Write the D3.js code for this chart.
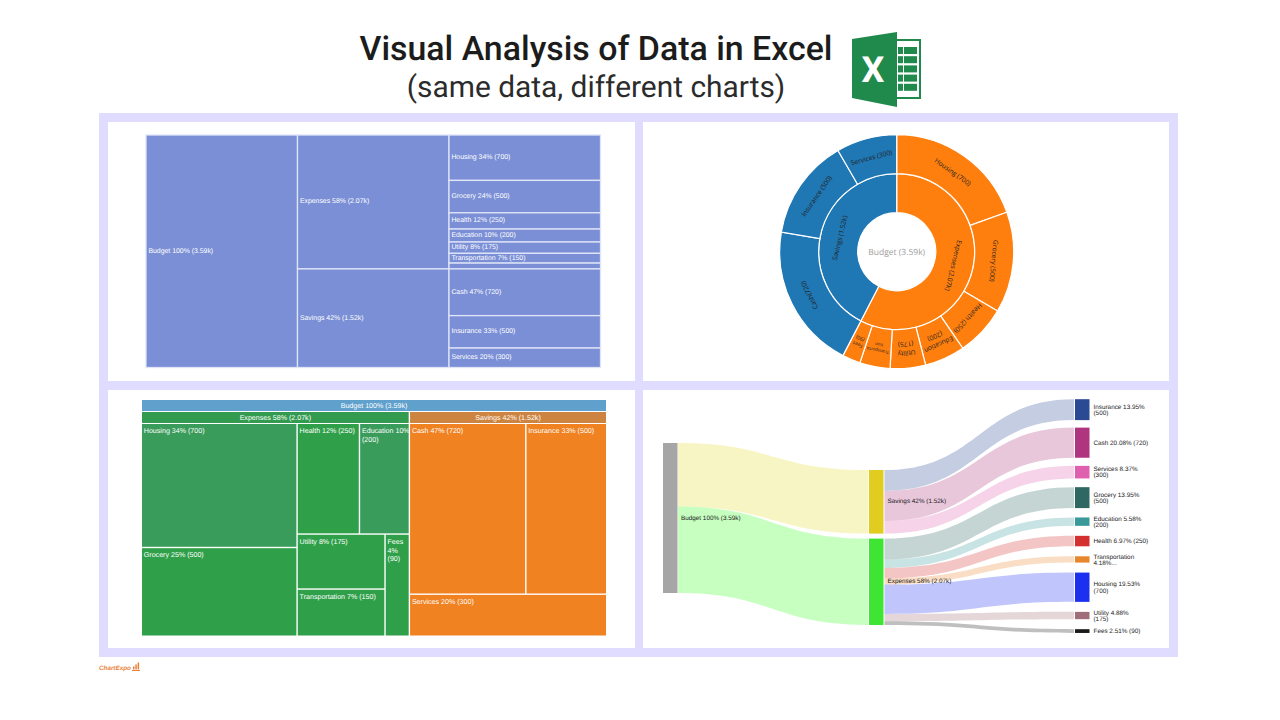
<!DOCTYPE html>
<html><head><meta charset="utf-8">
<script src="https://cdn.jsdelivr.net/npm/d3@7"></script>
<style>html,body{margin:0;padding:0;background:#fff;overflow:hidden}svg{display:block;text-rendering:geometricPrecision}</style>
</head><body><svg id="c" width="1280" height="720"></svg>
<script>
// ---- data ----
const titleText = "Visual Analysis of Data in Excel";
const subtitleText = "(same data, different charts)";
const groupNames = ["Expenses", "Savings"];
const expenseNames = ["Housing", "Grocery", "Health", "Education", "Utility", "Transportation", "Fees"];
const expenseValues = [700, 500, 250, 200, 175, 150, 90];
const savingsNames = ["Cash", "Insurance", "Services"];
const savingsValues = [720, 500, 300];
// icicle labels
const icicleRootLabel = "Budget 100% (3.59k)";
const icicleGroupLabels = ["Expenses 58% (2.07k)", "Savings 42% (1.52k)"];
const icicleExpenseLabels = ["Housing 34% (700)", "Grocery 24% (500)", "Health 12% (250)", "Education 10% (200)", "Utility 8% (175)", "Transportation 7% (150)", ""];
const icicleSavingsLabels = ["Cash 47% (720)", "Insurance 33% (500)", "Services 20% (300)"];
// sunburst labels
const sunCenterLabel = "Budget (3.59k)";
const sunGroupLabels = ["Expenses (2.07k)", "Savings (1.52k)"];
const sunExpenseLabels = [["Housing (700)"], ["Grocery (500)"], ["Health (250)"], ["Education", "(200)"], ["Utility", "(175)"], ["Transporta", "tion"], ["Fees", "(90)"]];
const sunSavingsLabels = [["Cash(720)"], ["Insurance (500)"], ["Services (300)"]];
// treemap labels
const treeRootLabel = "Budget 100% (3.59k)";
const treeGroupLabels = ["Expenses 58% (2.07k)", "Savings 42% (1.52k)"];
const treeExpenseLabels = [["Housing 34% (700)"], ["Grocery 25% (500)"], ["Health 12% (250)"], ["Education 10%", "(200)"], ["Utility 8% (175)"], ["Transportation 7% (150)"], ["Fees", "4%", "(90)"]];
const treeSavingsLabels = [["Cash 47% (720)"], ["Insurance  33% (500)"], ["Services 20% (300)"]];
// sankey
const sankeyRootLabel = "Budget 100% (3.59k)";
const sankeyGroupLabels = ["Savings 42% (1.52k)", "Expenses 58% (2.07k)"];
const sankeyGroupOrder = ["Savings", "Expenses"];
const sankeySavingsOrder = ["Insurance", "Cash", "Services"];
const sankeyExpenseOrder = ["Grocery", "Education", "Health", "Transportation", "Housing", "Utility", "Fees"];
const sankeyLeafLabels = [["Insurance 13.95%", "(500)"], ["Cash 20.08% (720)"], ["Services 8.37%", "(300)"], ["Grocery 13.95%", "(500)"], ["Education 5.58%", "(200)"], ["Health 6.97% (250)"], ["Transportation", "4.18%..."], ["Housing 19.53%", "(700)"], ["Utility 4.88%", "(175)"], ["Fees 2.51% (90)"]];

// ---- helpers ----
const svg = d3.select("#c");
const valueOf = n => {
  let i = expenseNames.indexOf(n);
  if (i >= 0) return expenseValues[i];
  return savingsValues[savingsNames.indexOf(n)];
};
const budgetTree = () => ({
  name: "Budget",
  children: [
    { name: groupNames[0], children: expenseNames.map((n, i) => ({ name: n, value: expenseValues[i] })) },
    { name: groupNames[1], children: savingsNames.map((n, i) => ({ name: n, value: savingsValues[i] })) }
  ]
});
const multi = (sel, lines, x, lh, dy0) => {
  lines.forEach((l, i) => sel.append("tspan").attr("x", x).attr("dy", i === 0 ? (dy0 || 0) : lh).text(l));
};

// ---- page frame ----
svg.append("rect").attr("x", 99).attr("y", 113).attr("width", 1079).attr("height", 544).attr("fill", "#e0dcff");
[[108, 122, 527, 259], [643, 122, 526, 259], [108, 390, 527, 258], [643, 390, 526, 258]].forEach(p =>
  svg.append("rect").attr("x", p[0]).attr("y", p[1]).attr("width", p[2]).attr("height", p[3]).attr("fill", "#fff"));

// ---- title ----
svg.append("text").attr("x", 596).attr("y", 60).attr("text-anchor", "middle")
  .attr("font-family", "Roboto").attr("font-weight", 500).attr("font-size", 33.9).attr("fill", "#1c1c1c").text(titleText);
svg.append("text").attr("x", 596).attr("y", 97).attr("text-anchor", "middle")
  .attr("font-family", "Roboto").attr("font-size", 29.9).attr("fill", "#2b2b2b").text(subtitleText);

// ---- Excel logo ----
const xl = svg.append("g");
xl.append("rect").attr("x", 894).attr("y", 39).attr("width", 27).attr("height", 60).attr("fill", "#1f8a4c");
xl.append("rect").attr("x", 897).attr("y", 41).attr("width", 22).attr("height", 56).attr("fill", "#fff");
d3.range(5).forEach(r => {
  [[898, 5], [904, 13]].forEach(c => {
    xl.append("rect").attr("x", c[0]).attr("y", 47 + r * 9.2).attr("width", c[1]).attr("height", 7).attr("fill", "#1f8a4c");
  });
});
xl.append("path").attr("d", "M852,39L897,32L897,107L852,98Z").attr("fill", "#1f8a4c");
xl.append("text").attr("x", 873).attr("y", 82).attr("text-anchor", "middle")
  .attr("font-family", "Roboto").attr("font-weight", 700).attr("font-size", 36).attr("fill", "#fff").text("X");

// ---- ChartExpo mark ----
svg.append("text").attr("x", 99).attr("y", 670).attr("font-family", "Liberation Sans").attr("font-style", "italic")
  .attr("font-weight", 700).attr("font-size", 6.3).attr("fill", "#e8823a").text("ChartExpo");
[[133, 3], [135.3, 5], [137.6, 7]].forEach(b =>
  svg.append("rect").attr("x", b[0]).attr("y", 669.5 - b[1]).attr("width", 1.5).attr("height", b[1]).attr("fill", "#e8823a"));
svg.append("rect").attr("x", 132).attr("y", 670).attr("width", 8).attr("height", 1).attr("fill", "#e8823a");

// ---- 1. icicle ----
(function () {
  const root = d3.hierarchy(budgetTree()).sum(d => d.value);
  d3.partition().size([232.5, 454.5])(root);
  const g = svg.append("g").attr("transform", "translate(146,135)");
  const labelFor = d => {
    if (d.depth === 0) return icicleRootLabel;
    if (d.depth === 1) return icicleGroupLabels[groupNames.indexOf(d.data.name)];
    let i = expenseNames.indexOf(d.data.name);
    return i >= 0 ? icicleExpenseLabels[i] : icicleSavingsLabels[savingsNames.indexOf(d.data.name)];
  };
  const cell = g.selectAll("g").data(root.descendants()).join("g");
  cell.append("rect").attr("x", d => d.y0).attr("y", d => d.x0)
    .attr("width", d => d.y1 - d.y0).attr("height", d => d.x1 - d.x0)
    .attr("fill", "#7b8fd6").attr("stroke", "#dfe4f7").attr("stroke-width", 1.3);
  cell.append("text").attr("x", d => d.y0 + 2.4).attr("y", d => (d.x0 + d.x1) / 2)
    .attr("dominant-baseline", "central").attr("font-family", "Liberation Sans").attr("font-size", 6.9)
    .attr("fill", "#fff").text(labelFor);
})();

// ---- 2. sunburst ----
(function () {
  const root = d3.hierarchy(budgetTree()).sum(d => d.value);
  d3.partition().size([2 * Math.PI, 1])(root);
  const r = d3.scaleLinear().domain([1, 3]).range([39, 117]);
  const colour = d3.scaleOrdinal().domain(groupNames).range(["#ff7f0e", "#1f77b4"]);
  const arc = d3.arc().startAngle(d => d.x0).endAngle(d => d.x1)
    .innerRadius(d => r(d.depth)).outerRadius(d => r(d.depth + 1));
  const g = svg.append("g").attr("transform", "translate(896.7,251.7)");
  const nodes = root.descendants().filter(d => d.depth > 0);
  g.selectAll("path").data(nodes).join("path").attr("d", arc)
    .attr("fill", d => colour(d.depth === 1 ? d.data.name : d.parent.data.name))
    .attr("stroke", "#fff").attr("stroke-width", 1.2);
  const linesFor = d => {
    if (d.depth === 1) return [sunGroupLabels[groupNames.indexOf(d.data.name)]];
    let i = expenseNames.indexOf(d.data.name);
    return i >= 0 ? sunExpenseLabels[i] : sunSavingsLabels[savingsNames.indexOf(d.data.name)];
  };
  const size = d => d.value <= 90 ? 5 : d.value <= 150 ? 4.4 : 6.7;
  g.selectAll("text.l").data(nodes).join("text").attr("class", "l")
    .attr("transform", d => {
      const a = (d.x0 + d.x1) / 2, rm = (r(d.depth) + r(d.depth + 1)) / 2;
      return `translate(${rm * Math.sin(a)},${-rm * Math.cos(a)}) rotate(${a * 180 / Math.PI})`;
    })
    .attr("text-anchor", "middle").attr("font-family", "Open Sans").attr("font-size", size).attr("fill", "#222")
    .each(function (d) {
      const lines = linesFor(d), fs = size(d), lh = fs * 1.35;
      multi(d3.select(this), lines, 0, lh, -(lines.length - 1) * lh / 2 + fs * 0.35);
    });
  g.append("text").attr("text-anchor", "middle").attr("y", 3).attr("font-family", "Open Sans").attr("font-size", 8.5)
    .attr("fill", "#a0a0a0").text(sunCenterLabel);
})();

// ---- 3. treemap ----
(function () {
  const leaf = n => ({ name: n, value: valueOf(n) });
  const data = {
    name: "Budget", label: treeRootLabel, dir: "h", children: [
      { name: groupNames[0], label: treeGroupLabels[0], dir: "h", children: [
        { dir: "v", children: [leaf("Housing"), leaf("Grocery")] },
        { dir: "v", children: [
          { dir: "h", children: [leaf("Health"), leaf("Education")] },
          { dir: "h", children: [{ dir: "v", children: [leaf("Utility"), leaf("Transportation")] }, leaf("Fees")] }
        ] }
      ] },
      { name: groupNames[1], label: treeGroupLabels[1], dir: "v", children: [
        { dir: "h", children: [leaf("Cash"), leaf("Insurance")] },
        leaf("Services")
      ] }
    ]
  };
  const root = d3.hierarchy(data).sum(d => d.value);
  d3.treemap().size([464, 235.5]).paddingInner(1.4)
    .paddingTop(d => d.data.label ? 12 : 0)
    .tile((n, a, b, c, e) => (n.data.dir === "h" ? d3.treemapDice : d3.treemapSlice)(n, a, b, c, e))(root);
  const g = svg.append("g").attr("transform", "translate(142,400)");
  const leaves = root.leaves();
  const lighter = ["Housing", "Education"];
  const fill = d => {
    if (savingsNames.includes(d.data.name)) return "#f08222";
    return lighter.includes(d.data.name) ? "#3a9c5a" : "#2fa049";
  };
  const lines = d => {
    let i = expenseNames.indexOf(d.data.name);
    return i >= 0 ? treeExpenseLabels[i] : treeSavingsLabels[savingsNames.indexOf(d.data.name)];
  };
  const headFill = d3.scaleOrdinal().domain(["Budget", ...groupNames]).range(["#5fa0cc", "#339b50", "#cd8440"]);
  const heads = root.descendants().filter(d => d.data.label);
  g.selectAll("rect.h").data(heads).join("rect").attr("class", "h")
    .attr("x", d => d.x0).attr("y", d => d.y0).attr("width", d => d.x1 - d.x0).attr("height", 11)
    .attr("fill", d => headFill(d.data.name));
  g.selectAll("text.h").data(heads).join("text").attr("class", "h")
    .attr("x", d => (d.x0 + d.x1) / 2).attr("y", d => d.y0 + 5.5).attr("dominant-baseline", "central")
    .attr("text-anchor", "middle").attr("font-family", "Liberation Sans").attr("font-size", 7.1).attr("fill", "#fff")
    .text(d => d.data.label);
  g.selectAll("rect.c").data(leaves).join("rect").attr("class", "c")
    .attr("x", d => d.x0).attr("y", d => d.y0).attr("width", d => d.x1 - d.x0).attr("height", d => d.y1 - d.y0)
    .attr("fill", fill);
  g.selectAll("text.c").data(leaves).join("text").attr("class", "c")
    .attr("y", d => d.y0 + 9.3).attr("font-family", "Liberation Sans").attr("font-size", 7.1).attr("fill", "#fff")
    .each(function (d) { multi(d3.select(this), lines(d), d.x0 + 1.8, 8.6); });
})();

// ---- 4. sankey ----
(function () {
  const total = d3.sum(expenseValues) + d3.sum(savingsValues);
  const h = d3.scaleLinear().domain([0, total]).range([0, 150]);
  const groupVal = { Savings: d3.sum(savingsValues), Expenses: d3.sum(expenseValues) };
  const colours = {
    Budget: "#a6a6a6", Savings: "#e0cd20", Expenses: "#3ee533",
    Insurance: "#2b4a94", Cash: "#b0357f", Services: "#e060b0", Grocery: "#2f6863", Education: "#3a9a9a",
    Health: "#d53030", Transportation: "#e8862e", Housing: "#1c30f0", Utility: "#a06e78", Fees: "#1a1a1a"
  };
  const linkTint = { Savings: "#e6db2c", Expenses: "#33ff1e" };
  const col = d3.scalePoint().domain([0, 1, 2]).range([663, 1075]);
  const nodeW = 14.5, g = svg.append("g");
  // node stacks; the space between nodes widens a little going down the column
  const stack = (names, val, top, gap) => {
    let y = top;
    return names.map((n, i) => { const o = { name: n, y0: y, y1: y + h(val(n)), v: val(n) }; y = o.y1 + gap(i); return o; });
  };
  const rootNode = stack(["Budget"], () => total, 443, () => 0);
  const midNodes = stack(sankeyGroupOrder, n => groupVal[n], 470, () => 5);
  const leafOrder = [...sankeySavingsOrder, ...sankeyExpenseOrder];
  const leafGap = d3.scaleLinear().domain([0, 4]).range([7.5, 10]).clamp(true);
  const leafNodes = stack(leafOrder, valueOf, 399.2, leafGap);
  // links
  const band = d3.area().curve(d3.curveBumpX).x(d => d[0]).y0(d => d[1]).y1(d => d[2]);
  const links = [];
  let sy = 443;
  midNodes.forEach(m => {
    links.push({ x0: col(0) + nodeW + 0.5, x1: col(1) - 1, a: sy, b: m.y0, w: h(m.v), c: linkTint[m.name] });
    sy += h(m.v);
    const kids = m.name === "Savings" ? sankeySavingsOrder : sankeyExpenseOrder;
    let ky = m.y0;
    kids.forEach(k => {
      const t = leafNodes.find(n => n.name === k);
      links.push({ x0: col(1) + nodeW + 1, x1: col(2) - 1, a: ky, b: t.y0, w: h(t.v), c: colours[k] });
      ky += h(t.v);
    });
  });
  g.selectAll("path").data(links).join("path")
    .attr("d", d => band([[d.x0, d.a, d.a + d.w], [d.x1, d.b, d.b + d.w]]))
    .attr("fill", d => d.c).attr("opacity", 0.28);
  const drawNodes = (ns, c) => g.append("g").selectAll("rect").data(ns).join("rect")
    .attr("x", col(c)).attr("y", d => d.y0).attr("width", nodeW).attr("height", d => d.y1 - d.y0)
    .attr("fill", d => colours[d.name]);
  drawNodes(rootNode, 0); drawNodes(midNodes, 1); drawNodes(leafNodes, 2);
  const label = (x, y, lines, lh) => {
    const t = g.append("text").attr("y", y).attr("font-family", "Liberation Sans").attr("font-size", 6.35).attr("fill", "#222");
    multi(t, lines, x, lh, -(lines.length - 1) * lh / 2 + 2.2);
  };
  label(col(0) + nodeW + 3.5, 518, [sankeyRootLabel], 6);
  midNodes.forEach(m => label(col(1) + nodeW + 4, m.name === "Savings" ? 501 : 581, [sankeyGroupLabels[sankeyGroupOrder.indexOf(m.name)]], 6));
  leafNodes.forEach((n, i) => label(col(2) + nodeW + 4, (n.y0 + n.y1) / 2, sankeyLeafLabels[i], 6.2));
})();
</script></body></html>
